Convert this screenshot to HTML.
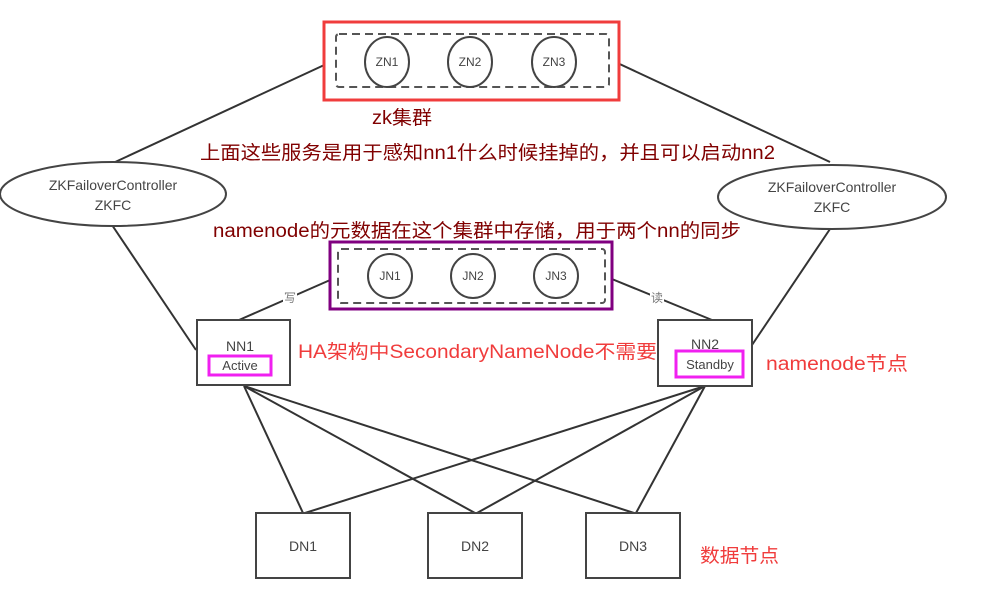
<!DOCTYPE html>
<html><head><meta charset="utf-8"><style>
body{margin:0;background:#fff;}
svg{display:block;}
.h{font-family:"Liberation Sans","DejaVu Sans",sans-serif;fill:#444;}
.c{font-family:"Liberation Sans","Noto Sans CJK SC",sans-serif;}
</style></head><body>
<svg width="994" height="600" viewBox="0 0 994 600" xmlns="http://www.w3.org/2000/svg">
<g stroke="#333" stroke-width="2" fill="none">
<line x1="335" y1="60" x2="113" y2="163"/>
<line x1="611" y1="60" x2="830" y2="162"/>
<line x1="112" y1="225" x2="196" y2="350"/>
<line x1="830" y1="229" x2="752" y2="345"/>
<line x1="337" y1="277" x2="239" y2="320"/>
<line x1="607" y1="277" x2="712" y2="320"/>
<line x1="244" y1="386" x2="303" y2="513"/>
<line x1="244" y1="386" x2="475" y2="513"/>
<line x1="244" y1="386" x2="634" y2="513"/>
<line x1="705" y1="386" x2="305" y2="513"/>
<line x1="705" y1="386" x2="477" y2="513"/>
<line x1="705" y1="386" x2="636" y2="513"/>
</g>
<rect x="283" y="290" width="14" height="14" fill="#fff"/>
<text x="290" y="302" class="c" font-size="12" fill="#777" text-anchor="middle">写</text>
<rect x="650" y="290" width="14" height="14" fill="#fff"/>
<text x="657" y="302" class="c" font-size="12" fill="#777" text-anchor="middle">读</text>
<rect x="324" y="22" width="295" height="78" fill="#fff" stroke="#f03c3c" stroke-width="3"/>
<rect x="336" y="34" width="273" height="53" rx="3" fill="none" stroke="#555" stroke-width="2" stroke-dasharray="8,5"/>
<g fill="#fff" stroke="#444" stroke-width="2">
<ellipse cx="387" cy="62" rx="22" ry="25"/><ellipse cx="470" cy="62" rx="22" ry="25"/><ellipse cx="554" cy="62" rx="22" ry="25"/>
<ellipse cx="113" cy="194" rx="113" ry="32"/><ellipse cx="832" cy="197" rx="114" ry="32"/>
</g>
<g class="h" font-size="12" text-anchor="middle">
<text x="387" y="66">ZN1</text><text x="470" y="66">ZN2</text><text x="554" y="66">ZN3</text>
</g>
<g class="h" font-size="14" text-anchor="middle" fill="#333">
<text x="113" y="190">ZKFailoverController</text><text x="113" y="210">ZKFC</text>
<text x="832" y="192">ZKFailoverController</text><text x="832" y="212">ZKFC</text>
</g>
<rect x="330" y="242" width="282" height="67" fill="#fff" stroke="#800080" stroke-width="3"/>
<rect x="338" y="249" width="267" height="54" rx="3" fill="none" stroke="#555" stroke-width="2" stroke-dasharray="8,5"/>
<g fill="#fff" stroke="#444" stroke-width="2">
<circle cx="390" cy="276" r="22"/><circle cx="473" cy="276" r="22"/><circle cx="556" cy="276" r="22"/>
</g>
<g class="h" font-size="12" text-anchor="middle">
<text x="390" y="280">JN1</text><text x="473" y="280">JN2</text><text x="556" y="280">JN3</text>
</g>
<rect x="197" y="320" width="93" height="65" fill="#fff" stroke="#444" stroke-width="2"/>
<rect x="658" y="320" width="94" height="66" fill="#fff" stroke="#444" stroke-width="2"/>
<rect x="209" y="356" width="62" height="19" fill="none" stroke="#f020f0" stroke-width="3"/>
<rect x="676" y="351" width="67" height="26" fill="none" stroke="#f020f0" stroke-width="3"/>
<g class="h" text-anchor="middle" fill="#333">
<text x="240" y="351" font-size="14">NN1</text><text x="240" y="370" font-size="13">Active</text>
<text x="705" y="349" font-size="14">NN2</text><text x="710" y="369" font-size="13">Standby</text>
</g>
<g fill="#fff" stroke="#444" stroke-width="2">
<rect x="256" y="513" width="94" height="65"/><rect x="428" y="513" width="94" height="65"/><rect x="586" y="513" width="94" height="65"/>
</g>
<g class="h" font-size="14" text-anchor="middle">
<text x="303" y="551">DN1</text><text x="475" y="551">DN2</text><text x="633" y="551">DN3</text>
</g>
<g class="c" font-size="19" fill="#800000">
<text x="372" y="124" textLength="60" lengthAdjust="spacingAndGlyphs">zk集群</text>
<text x="200" y="159" textLength="575" lengthAdjust="spacingAndGlyphs">上面这些服务是用于感知nn1什么时候挂掉的，并且可以启动nn2</text>
<text x="213" y="237" textLength="528" lengthAdjust="spacingAndGlyphs">namenode的元数据在这个集群中存储，用于两个nn的同步</text>
</g>
<g class="c" font-size="19" fill="#f03c3c">
<text x="298" y="358" textLength="359" lengthAdjust="spacingAndGlyphs">HA架构中SecondaryNameNode不需要</text>
<text x="766" y="370" textLength="142" lengthAdjust="spacingAndGlyphs">namenode节点</text>
<text x="700" y="562" textLength="79" lengthAdjust="spacingAndGlyphs">数据节点</text>
</g>
</svg>
</body></html>
